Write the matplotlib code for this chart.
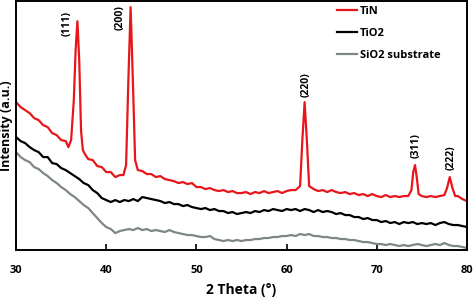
import numpy as np
import matplotlib
matplotlib.use("Agg")
import matplotlib.pyplot as plt

# values (intensity in arbitrary units)
theta_tin = [30.0, 30.5, 31.0, 31.5, 32.0, 32.5, 33.0, 33.5, 34.0, 34.5, 35.0, 35.5, 35.8, 36.1, 36.4, 36.6,
             36.8, 37.0, 37.2, 37.4, 37.7, 38.0, 38.5, 39.0, 39.5, 40.0, 40.5, 41.0, 41.5, 41.9, 42.2, 42.45,
             42.7, 42.95, 43.2, 43.5, 44.0, 44.5, 45.0, 45.5, 46.0, 46.5, 47.0, 47.5, 48.0, 48.5, 49.0, 49.5,
             50.0, 50.5, 51.0, 51.5, 52.0, 52.5, 53.0, 53.5, 54.0, 54.5, 55.0, 55.5, 56.0, 56.5, 57.0, 57.5,
             58.0, 58.5, 59.0, 59.5, 60.0, 60.5, 61.0, 61.5, 61.75, 62.0, 62.25, 62.5, 63.0, 63.5, 64.0, 64.5,
             65.0, 65.5, 66.0, 66.5, 67.0, 67.5, 68.0, 68.5, 69.0, 69.5, 70.0, 70.5, 71.0, 71.5, 72.0, 72.5,
             73.0, 73.5, 73.85, 74.05, 74.25, 74.45, 74.65, 75.0, 75.5, 76.0, 76.5, 77.0, 77.5, 77.8, 78.1,
             78.4, 78.7, 79.0, 79.5, 80.0]
int_tin = [148, 143, 140, 137, 132, 130, 125, 123, 117, 115, 110, 109, 103, 110, 150, 200,
           229, 190, 120, 100, 95, 91, 90, 84, 83, 78, 78, 73, 75, 75, 85, 170,
           243, 170, 90, 80, 79, 76, 76, 73, 74, 71, 70, 69, 67, 68, 66, 67,
           63, 63, 61, 62, 60, 59, 60, 58, 59, 57, 57, 58, 56, 58, 57, 59,
           57, 58, 59, 57, 59, 60, 60, 64, 110, 148, 110, 64, 61, 59, 60, 58,
           60, 58, 57, 58, 56, 57, 55, 56, 54, 56, 54, 53, 55, 53, 54, 53,
           54, 54, 60, 78, 85, 72, 56, 54, 53, 54, 53, 54, 55, 62, 73,
           62, 54, 54, 51, 49]

theta = [30.0 + 0.5 * i for i in range(101)]
int_tio2 = [113, 109, 107, 103, 100, 98, 93, 93, 87, 86, 82, 80, 77, 74, 71, 67, 65, 60, 57, 52,
            50, 48, 50, 48, 50, 49, 51, 49, 53, 52, 51, 50, 49, 47, 48, 46, 46, 44, 45, 43,
            42, 41, 42, 40, 41, 39, 39, 37, 38, 36, 37, 38, 37, 39, 38, 40, 39, 41, 40, 39,
            41, 40, 41, 39, 41, 40, 38, 40, 38, 39, 38, 36, 37, 35, 35, 33, 33, 31, 32, 30,
            30, 28, 29, 27, 28, 26, 28, 27, 28, 26, 27, 26, 27, 25, 27, 28, 26, 25, 25, 24, 23]
int_sio2 = [98, 93, 90, 88, 83, 81, 77, 74, 70, 67, 63, 60, 56, 53, 49, 45, 42, 37, 32, 27,
            23, 21, 17, 19, 20, 21, 20, 22, 20, 21, 19, 20, 19, 18, 20, 18, 17, 16, 15, 15,
            14, 13, 13, 14, 11, 10, 9, 10, 9, 10, 9, 10, 10, 11, 11, 12, 12, 13, 13, 14,
            14, 15, 14, 16, 15, 16, 14, 14, 13, 13, 12, 12, 11, 11, 10, 10, 9, 8, 8, 7,
            6, 6, 5, 6, 5, 4, 5, 4, 5, 6, 5, 4, 5, 6, 5, 7, 5, 4, 4, 3, 2]

peak_labels = ["(111)", "(200)", "(220)", "(311)", "(222)"]
label_theta = [35.65, 41.53, 62.15, 74.35, 78.2]
label_int = [227, 233, 166, 105, 92]

plt.rcParams['font.family'] = ['Open Sans', 'DejaVu Sans']
plt.rcParams['font.weight'] = 'bold'

fig = plt.figure(figsize=(4.74, 2.98), dpi=100)
ax = fig.add_axes([0.034, 0.161, 0.951, 0.835])

ax.plot(theta_tin, int_tin, color='#e8161b', lw=1.6, label='TiN')
ax.plot(theta, int_tio2, color='black', lw=1.6, label='TiO2')
ax.plot(theta, int_sio2, color='#7f8686', lw=1.6, label='SiO2 substrate')

for txt, x, y in zip(peak_labels, label_theta, label_int):
    ax.text(x, y, txt, rotation=90, ha='center', va='center', fontsize=7.5, fontweight='bold')

ax.set_xlim(30, 80)
ax.set_ylim(0, 249)
ax.set_xticks([30, 40, 50, 60, 70, 80])
ax.set_yticks([])
ax.tick_params(axis='x', direction='in', length=4, width=1.2, labelsize=8, pad=11)
for lbl in ax.get_xticklabels():
    lbl.set_fontweight('bold')
for sp in ax.spines.values():
    sp.set_linewidth(1.4)

ax.set_xlabel('2 Theta (°)', fontsize=10, fontweight='bold', labelpad=5)
ax.set_ylabel('Intensity (a.u.)', fontsize=9, fontweight='bold', labelpad=2)

ax.legend(loc='upper left', frameon=False, handlelength=1.8, handletextpad=0.3,
          labelspacing=1.0, borderaxespad=0, borderpad=0.1, bbox_to_anchor=(0.709, 0.985),
          prop={'weight': 'bold', 'size': 8})

fig.savefig('out.png', dpi=100)
